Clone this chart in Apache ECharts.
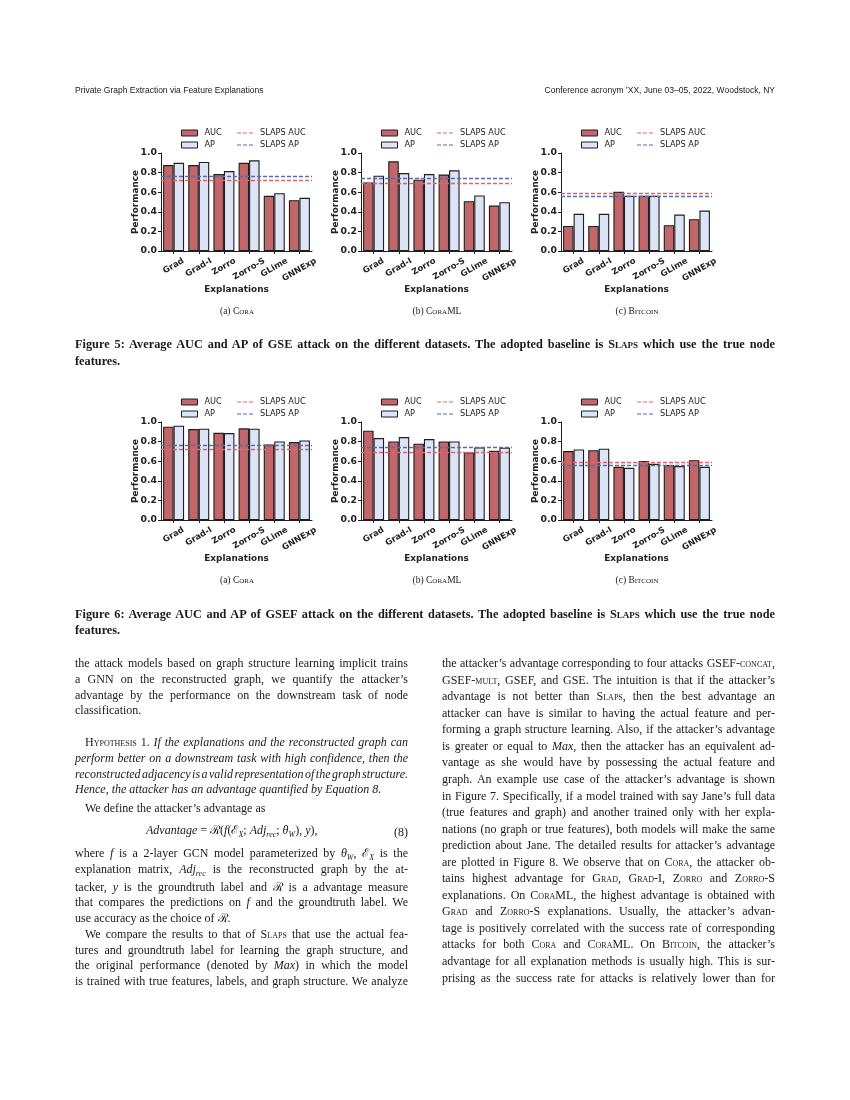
<!DOCTYPE html>
<html>
<head>
<meta charset="utf-8">
<script src="https://cdn.jsdelivr.net/npm/echarts@6/dist/echarts.min.js"></script>
<style>
  html, body { margin: 0; padding: 0; background: #fff; }
  #page { position: relative; width: 850px; height: 1100px; overflow: hidden; background: #fff; }
  #chart { position: absolute; left: 0; top: 0; width: 850px; height: 1100px; }
  .t { position: absolute; white-space: nowrap; color: #1a1a1a; font-family: "Liberation Serif", "DejaVu Serif", serif; }
  .hdr { font-family: "Liberation Sans", "Open Sans", sans-serif; font-size: 8.5px; }
  .sub { font-size: 9.5px; }
  .cap { font-weight: bold; font-size: 12.3px; }
  .body { font-size: 12px; line-height: 15.75px; }
  .sc { font-variant: small-caps; }
  i { font-style: italic; }
</style>
</head>
<body>
<div id="page">
  <div id="chart"></div>
  <div id="text"></div>
</div>
<script>
// ---------------- DATA ----------------
const categories = ['Grad', 'Grad-I', 'Zorro', 'Zorro-S', 'GLime', 'GNNExp'];
const yTickValues = [0.0, 0.2, 0.4, 0.6, 0.8, 1.0];
const seriesNames = ['AUC', 'AP', 'SLAPS AUC', 'SLAPS AP'];
const xAxisTitle = 'Explanations';
const yAxisTitle = 'Performance';

// Figure 5 (GSE attack)
const gseCoraAUC    = [0.877, 0.877, 0.785, 0.900, 0.563, 0.519];
const gseCoraAP     = [0.900, 0.908, 0.816, 0.925, 0.590, 0.543];
const gseCoraSlaps  = [0.720, 0.761];   // [SLAPS AUC, SLAPS AP]
const gseCoraMLAUC  = [0.700, 0.915, 0.727, 0.780, 0.508, 0.464];
const gseCoraMLAP   = [0.768, 0.795, 0.785, 0.823, 0.567, 0.498];
const gseCoraMLSlaps= [0.693, 0.744];
const gseBitcoinAUC = [0.256, 0.256, 0.604, 0.563, 0.263, 0.324];
const gseBitcoinAP  = [0.379, 0.379, 0.563, 0.563, 0.372, 0.413];
const gseBitcoinSlaps=[0.590, 0.560];

// Figure 6 (GSEF attack)
const gsefCoraAUC    = [0.952, 0.928, 0.890, 0.935, 0.771, 0.795];
const gsefCoraAP     = [0.962, 0.932, 0.887, 0.932, 0.802, 0.812];
const gsefCoraSlaps  = [0.720, 0.761];
const gsefCoraMLAUC  = [0.911, 0.802, 0.778, 0.802, 0.689, 0.706];
const gsefCoraMLAP   = [0.836, 0.846, 0.826, 0.802, 0.741, 0.737];
const gsefCoraMLSlaps= [0.690, 0.740];
const gsefBitcoinAUC = [0.703, 0.713, 0.543, 0.601, 0.560, 0.610];
const gsefBitcoinAP  = [0.720, 0.727, 0.532, 0.573, 0.550, 0.543];
const gsefBitcoinSlaps=[0.594, 0.560];

const panels = [
  { auc: gseCoraAUC,     ap: gseCoraAP,     slaps: gseCoraSlaps },
  { auc: gseCoraMLAUC,   ap: gseCoraMLAP,   slaps: gseCoraMLSlaps },
  { auc: gseBitcoinAUC,  ap: gseBitcoinAP,  slaps: gseBitcoinSlaps },
  { auc: gsefCoraAUC,    ap: gsefCoraAP,    slaps: gsefCoraSlaps },
  { auc: gsefCoraMLAUC,  ap: gsefCoraMLAP,  slaps: gsefCoraMLSlaps },
  { auc: gsefBitcoinAUC, ap: gsefBitcoinAP, slaps: gsefBitcoinSlaps }
];

// ---------------- STYLE ----------------
const FONT = '"DejaVu Sans", sans-serif';
const C_AUC = '#c1666a';
const C_AP = '#dde4f5';
const C_EDGE = '#1e1e1e';
const C_SLAPS_AUC = '#e0626e';
const C_SLAPS_AP = '#5b6ba8';
const DASH = [4, 2];
const DASH_ICON = 'path://M0,0h4v1h-4zM6,0h4v1h-4zM12,0h4v1h-4z';
const XL_SIZE = 8.4;     // rotated category label font size
const NAME_SIZE = 8.9;
const YL_SIZE = 9.3;
const LEG_SIZE = 8.2;

const gridLefts = [161, 361, 561];
const gridTops = [153, 422];
const GW = 151, GH = 98;

// rotated labels centred under their tick (matplotlib style: rotation 30, ha centre, va top)
const measure = document.createElement('canvas').getContext('2d');
measure.font = 'bold ' + XL_SIZE + 'px "DejaVu Sans"';
const ANG = 30 * Math.PI / 180;
const LH = XL_SIZE * 1.17;
const richLabels = {};
categories.forEach((c, k) => {
  const w = measure.measureText(c).width;
  const D = 5 + (w * Math.sin(ANG) + LH * Math.cos(ANG)) / 2;   // wanted drop of text centre below axis
  richLabels['c' + k] = {
    fontFamily: FONT, fontWeight: 'bold', fontSize: XL_SIZE, color: '#222',
    padding: [2 * D * Math.cos(ANG), 2 * D * Math.sin(ANG), 0, 0]
  };
});

const option = {
  animation: false,
  backgroundColor: 'transparent',
  grid: [], xAxis: [], yAxis: [], series: [], legend: []
};

panels.forEach((p, i) => {
  const row = Math.floor(i / 3), col = i % 3;
  const left = gridLefts[col], top = gridTops[row];
  option.grid.push({ left: left, top: top, width: GW, height: GH, containLabel: false });
  option.xAxis.push({
    type: 'category', gridIndex: i, data: categories,
    axisLine: { show: true, lineStyle: { color: C_EDGE, width: 1 } },
    axisTick: { show: true, alignWithLabel: true, length: 3, lineStyle: { color: C_EDGE } },
    axisLabel: {
      interval: 0, rotate: 30, margin: 0, align: 'center', verticalAlign: 'middle',
      formatter: (v, k) => '{c' + k + '|' + v + '}', rich: richLabels
    },
    name: xAxisTitle, nameLocation: 'middle', nameGap: 34,
    nameTextStyle: { fontFamily: FONT, fontWeight: 'bold', fontSize: NAME_SIZE, color: '#222' },
    splitLine: { show: false }
  });
  option.yAxis.push({
    type: 'value', gridIndex: i, min: yTickValues[0], max: yTickValues[yTickValues.length - 1], interval: yTickValues[1] - yTickValues[0],
    axisLine: { show: true, lineStyle: { color: C_EDGE, width: 1 } },
    axisTick: { show: true, length: 3, lineStyle: { color: C_EDGE } },
    axisLabel: { margin: 4, fontFamily: FONT, fontWeight: 'bold', fontSize: YL_SIZE, color: '#222', formatter: v => v.toFixed(1) },
    splitLine: { show: false },
    name: yAxisTitle, nameLocation: 'middle', nameRotate: 90, nameGap: 21, nameMoveOverlap: false,
    nameTextStyle: { fontFamily: FONT, fontWeight: 'bold', fontSize: NAME_SIZE, color: '#222' }
  });
  option.series.push({
    type: 'bar', name: seriesNames[0], xAxisIndex: i, yAxisIndex: i, data: p.auc,
    barWidth: 10.5, barGap: '0%',
    itemStyle: { color: C_AUC, borderColor: C_EDGE, borderWidth: 1.1 }
  });
  option.series.push({
    type: 'bar', name: seriesNames[1], xAxisIndex: i, yAxisIndex: i, data: p.ap,
    barWidth: 10.5, barGap: '0%',
    itemStyle: { color: C_AP, borderColor: C_EDGE, borderWidth: 1.1 }
  });
  [[seriesNames[2], C_SLAPS_AUC, p.slaps[0]], [seriesNames[3], C_SLAPS_AP, p.slaps[1]]].forEach(([nm, c, v]) => {
    option.series.push({
      type: 'line', name: nm, xAxisIndex: i, yAxisIndex: i, data: [],
      symbol: 'none', showSymbol: false,
      itemStyle: { color: c },
      lineStyle: { color: c, width: 1.3, type: DASH },
      markLine: {
        silent: true, symbol: ['none', 'none'], label: { show: false },
        lineStyle: { color: c, width: 1.4, type: DASH },
        data: [{ yAxis: v }]
      },
      z: 10
    });
  });
  const legTop = top - 24;
  option.legend.push({
    orient: 'vertical', left: left + 20, top: legTop, padding: 0,
    itemWidth: 16, itemHeight: 6, itemGap: 4,
    icon: 'rect',
    itemStyle: { borderWidth: 1, borderColor: C_EDGE },
    data: [seriesNames[0], seriesNames[1]], selectedMode: false,
    textStyle: { fontFamily: FONT, fontSize: LEG_SIZE, color: '#222', padding: [0, 0, 0, 2] }
  });
  option.legend.push({
    orient: 'vertical', left: left + 76, top: legTop, padding: 0,
    itemWidth: 16, itemHeight: 6, itemGap: 4,
    data: [{ name: seriesNames[2], icon: DASH_ICON }, { name: seriesNames[3], icon: DASH_ICON }],
    selectedMode: false,
    textStyle: { fontFamily: FONT, fontSize: LEG_SIZE, color: '#222', padding: [0, 0, 0, 2] }
  });
});

const chart = echarts.init(document.getElementById('chart'), null, { renderer: 'canvas' });
chart.setOption(option);

// ---------------- TEXT ----------------
const sc = s => '<span class="sc">' + s + '</span>';
const items = [
  { cls: 'hdr', x: 75, y: 90, h: 'Private Graph Extraction via Feature Explanations' },
  { cls: 'hdr', xr: 775, y: 90, h: 'Conference acronym ’XX, June 03–05, 2022, Woodstock, NY' },
  { cls: 'sub', xc: 237, y: 311, h: '(a) ' + sc('Cora') },
  { cls: 'sub', xc: 437, y: 311, h: '(b) ' + sc('CoraML') },
  { cls: 'sub', xc: 637, y: 311, h: '(c) ' + sc('Bitcoin') },
  { cls: 'cap', x: 75, y: 344, w: 700, h: 'Figure 5: Average AUC and AP of GSE attack on the different datasets. The adopted baseline is ' + sc('Slaps') + ' which use the true node' },
  { cls: 'cap', x: 75, y: 361, h: 'features.' },
  { cls: 'sub', xc: 237, y: 580, h: '(a) ' + sc('Cora') },
  { cls: 'sub', xc: 437, y: 580, h: '(b) ' + sc('CoraML') },
  { cls: 'sub', xc: 637, y: 580, h: '(c) ' + sc('Bitcoin') },
  { cls: 'cap', x: 75, y: 614, w: 700, h: 'Figure 6: Average AUC and AP of GSEF attack on the different datasets. The adopted baseline is ' + sc('Slaps') + ' which use the true node' },
  { cls: 'cap', x: 75, y: 630, h: 'features.' },
  // left column
  { cls: 'body', x: 75, y: 664, w: 333, h: 'the attack models based on graph structure learning implicit trains' },
  { cls: 'body', x: 75, y: 680, w: 333, h: 'a GNN on the reconstructed graph, we quantify the attacker’s' },
  { cls: 'body', x: 75, y: 696, w: 333, h: 'advantage by the performance on the downstream task of node' },
  { cls: 'body', x: 75, y: 711, h: 'classification.' },
  { cls: 'body', x: 85, y: 743, w: 323, h: sc('Hypothesis') + ' 1. <i>If the explanations and the reconstructed graph can</i>' },
  { cls: 'body', x: 75, y: 759, w: 333, h: '<i>perform better on a downstream task with high confidence, then the</i>' },
  { cls: 'body', x: 75, y: 775, w: 333, h: '<i>reconstructed adjacency is a valid representation of the graph structure.</i>' },
  { cls: 'body', x: 75, y: 790, h: '<i>Hence, the attacker has an advantage quantified by Equation 8.</i>' },
  { cls: 'body', x: 85, y: 809, h: 'We define the attacker’s advantage as' },
  { cls: 'body', x: 146, y: 833, h: '<i>Advantage</i> = ℛ(<i>f</i>(ℰ<sub style="font-size:8px"><i>X</i></sub>; <i>Adj<sub style="font-size:8px">rec</sub></i>; <i>θ<sub style="font-size:8px">W</sub></i>), <i>y</i>),' },
  { cls: 'body', xr: 408, y: 833, h: '(8)' },
  { cls: 'body', x: 75, y: 856, w: 333, h: 'where <i>f</i> is a 2-layer GCN model parameterized by <i>θ<sub style="font-size:8px">W</sub></i>, ℰ<sub style="font-size:8px"><i>X</i></sub> is the' },
  { cls: 'body', x: 75, y: 872, w: 333, h: 'explanation matrix, <i>Adj<sub style="font-size:8px">rec</sub></i> is the reconstructed graph by the at-' },
  { cls: 'body', x: 75, y: 888, w: 333, h: 'tacker, <i>y</i> is the groundtruth label and ℛ is a advantage measure' },
  { cls: 'body', x: 75, y: 903, w: 333, h: 'that compares the predictions on <i>f</i> and the groundtruth label. We' },
  { cls: 'body', x: 75, y: 919, h: 'use accuracy as the choice of ℛ.' },
  { cls: 'body', x: 85, y: 935, w: 323, h: 'We compare the results to that of ' + sc('Slaps') + ' that use the actual fea-' },
  { cls: 'body', x: 75, y: 951, w: 333, h: 'tures and groundtruth label for learning the graph structure, and' },
  { cls: 'body', x: 75, y: 966, w: 333, h: 'the original performance (denoted by <i>Max</i>) in which the model' },
  { cls: 'body', x: 75, y: 982, w: 333, h: 'is trained with true features, labels, and graph structure. We analyze' }
];
const rightLines = [
  'the attacker’s advantage corresponding to four attacks GSEF-' + sc('concat') + ',',
  'GSEF-' + sc('mult') + ', GSEF, and GSE. The intuition is that if the attacker’s',
  'advantage is not better than ' + sc('Slaps') + ', then the best advantage an',
  'attacker can have is similar to having the actual feature and per-',
  'forming a graph structure learning. Also, if the attacker’s advantage',
  'is greater or equal to <i>Max</i>, then the attacker has an equivalent ad-',
  'vantage as she would have by possessing the actual feature and',
  'graph. An example use case of the attacker’s advantage is shown',
  'in Figure 7. Specifically, if a model trained with say Jane’s full data',
  '(true features and graph) and another trained only with her expla-',
  'nations (no graph or true features), both models will make the same',
  'prediction about Jane. The detailed results for attacker’s advantage',
  'are plotted in Figure 8. We observe that on ' + sc('Cora') + ', the attacker ob-',
  'tains highest advantage for ' + sc('Grad') + ', ' + sc('Grad-I') + ', ' + sc('Zorro') + ' and ' + sc('Zorro-S'),
  'explanations. On ' + sc('CoraML') + ', the highest advantage is obtained with',
  sc('Grad') + ' and ' + sc('Zorro-S') + ' explanations. Usually, the attacker’s advan-',
  'tage is positively correlated with the success rate of corresponding',
  'attacks for both ' + sc('Cora') + ' and ' + sc('CoraML') + '. On ' + sc('Bitcoin') + ', the attacker’s',
  'advantage for all explanation methods is usually high. This is sur-',
  'prising as the success rate for attacks is relatively lower than for'
];
rightLines.forEach((h, k) => items.push({ cls: 'body', x: 442, y: 664 + k * 16.55, w: 333, h: h }));

const host = document.getElementById('text');
items.forEach(it => {
  const d = document.createElement('div');
  d.className = 't ' + it.cls;
  d.innerHTML = it.h;
  host.appendChild(d);
  const r = d.getBoundingClientRect();
  if (it.w) {
    const spaces = (d.textContent.match(/ /g) || []).length;
    if (spaces) d.style.wordSpacing = ((it.w - r.width) / spaces) + 'px';
  }
  const r2 = d.getBoundingClientRect();
  let x = it.x;
  if (it.xr !== undefined) x = it.xr - r2.width;
  if (it.xc !== undefined) x = it.xc - r2.width / 2;
  d.style.left = x + 'px';
  d.style.top = (it.y - r2.height / 2) + 'px';
});
</script>
</body>
</html>
